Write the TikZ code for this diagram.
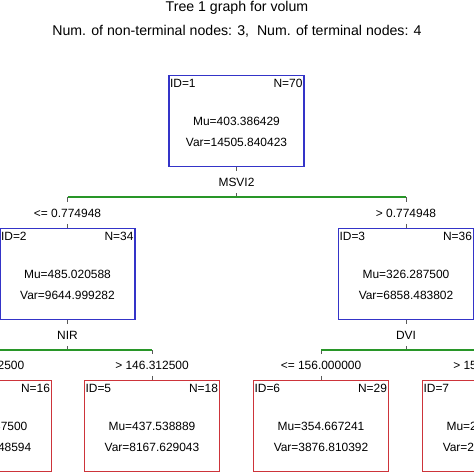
\documentclass[tikz,border=0pt]{standalone}
\usepackage{fontspec}
\setmainfont{Liberation Sans}
\usetikzlibrary{positioning}

\definecolor{nodeblue}{RGB}{52,52,200}
\definecolor{leafred}{RGB}{205,52,58}
\definecolor{splitgreen}{RGB}{40,150,40}

\begin{document}
\begin{tikzpicture}[x=1bp, y=-1bp,
    txt/.style={font=\fontsize{12}{14}\selectfont, inner sep=0pt},
    head/.style={font=\fontsize{14.2}{16}\selectfont, inner sep=0pt},
    box/.style={draw, line width=1.3bp, minimum width=135bp, minimum height=91bp, inner sep=0pt},
    inner/.style={box, draw=nodeblue},
    leaf/.style={box, draw=leafred},
    cond/.style={txt, inner xsep=1bp, inner ysep=6.5bp, text height=8.6bp, text depth=0pt},
    tick/.style={black!65, line width=0.8bp},
    branch/.style={draw=splitgreen, line width=1.5bp}]

    \useasboundingbox (0,0) rectangle (474,474);
    \clip (0,0) rectangle (474,474);

    \node[head] (title) at (237,8) {Tree 1 graph for volum};
    \node[head] (sub) at (237,31) {Num. of non-terminal nodes: 3,\ \ Num. of terminal nodes: 4};

    % boxes: id / x / y / kind / N / Mu / Var
    \foreach \id/\x/\y/\kind/\n/\mu/\vr in {
        1/236.5/121/inner/70/403.386429/14505.840423,
        2/67.5/274/inner/34/485.020588/9644.999282,
        3/406/274/inner/36/326.287500/6858.483802,
        4/-16/426/leaf/16/538.437500/5917.348594,
        5/152/426/leaf/18/437.538889/8167.629043,
        6/321/426/leaf/29/354.667241/3876.810392,
        7/490/426/leaf/7/208.714286/2050.972449} {
        \node[\kind] (n\id) at (\x,\y) {};
        \node[txt, below right=4bp and 1.5bp of n\id.north west] (id\id) {ID=\id};
        \node[txt, below left=4bp and 2bp of n\id.north east] (N\id) {N=\n};
        \node[txt] (mu\id) at (n\id.center) {Mu=\mu};
        \node[txt] (var\id) at ([yshift=-21bp]n\id.center) {Var=\vr};
    }

    % splits: parent / left / right / variable / conditions
    \foreach \p/\a/\b/\vname/\condl/\condr in {
        1/2/3/MSVI2/{<= 0.774948}/{> 0.774948},
        2/4/5/NIR/{<= 146.312500}/{> 146.312500},
        3/6/7/DVI/{<= 156.000000}/{> 156.000000}} {
        \node[cond] (v\p) at ([yshift=-15bp]n\p.south) {\vname};
        \coordinate (g\p) at ([yshift=-30bp]n\p.south);
        \node[cond] (c\a) at ([yshift=15bp]n\a.north) {\condl};
        \node[cond] (c\b) at ([yshift=15bp]n\b.north) {\condr};
        \draw[tick] (n\p.south) -- (v\p.north);
        \draw[tick] (v\p.south) -- (g\p);
        \draw[tick] (n\a.north |- g\p) -- (c\a.north);
        \draw[tick] (c\a.south) -- (n\a.north);
        \draw[tick] (n\b.north |- g\p) -- (c\b.north);
        \draw[tick] (c\b.south) -- (n\b.north);
    }

    % green branch lines
    \foreach \p/\a/\b in {1/2/3, 2/4/5, 3/6/7}
        \path[branch] (n\a.north |- g\p) -- (n\b.north |- g\p);
\end{tikzpicture}
\end{document}
